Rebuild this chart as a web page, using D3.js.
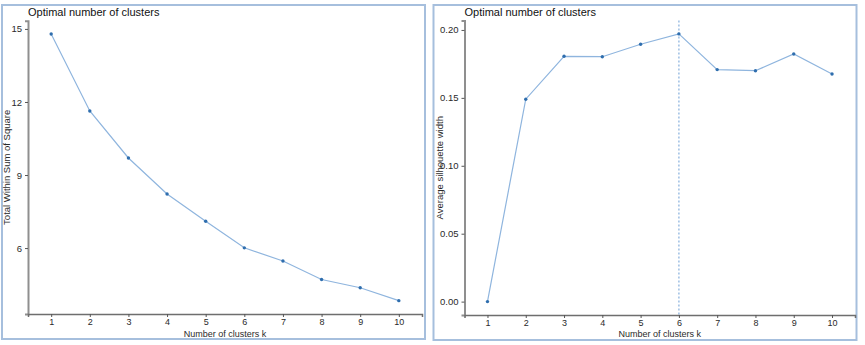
<!DOCTYPE html>
<html>
<head>
<meta charset="utf-8">
<script src="https://cdn.jsdelivr.net/npm/d3@7"></script>
<style>
  body { margin: 0; background: #fff; }
  svg { display: block; font-family: "Liberation Sans", Arial, sans-serif; }
</style>
</head>
<body>
<svg id="chart" width="865" height="345"></svg>
<script>
// Cluster counts evaluated
const clusterK = [1, 2, 3, 4, 5, 6, 7, 8, 9, 10];
// Elbow method: total within-cluster sum of squares
const wssValues = [14.79, 11.63, 9.70, 8.22, 7.10, 6.01, 5.47, 4.71, 4.37, 3.84];
// Silhouette method: average silhouette width
const silValues = [0.000, 0.149, 0.1806, 0.1803, 0.1895, 0.1971, 0.1708, 0.1700, 0.1823, 0.1676];
const wssTicks = [6, 9, 12, 15];
const silTicks = [0.00, 0.05, 0.10, 0.15, 0.20];
const bestK = 6;

const svg = d3.select("#chart");
const lineColor = "#8fb5de";
const pointColor = "#2f6eae";
const frameColor = "#a6bfdd";

function panel(cfg) {
  const g = svg.append("g");
  g.append("rect")
    .attr("x", cfg.frame[0]).attr("y", cfg.frame[1])
    .attr("width", cfg.frame[2]).attr("height", cfg.frame[3])
    .attr("fill", "none").attr("stroke", frameColor).attr("stroke-width", 2);

  const x = d3.scaleLinear().domain([0.4, 10.6]).range([cfg.left, cfg.right]);
  const yExt = d3.extent(cfg.values);
  const pad = (yExt[1] - yExt[0]) * 0.05;
  const y = d3.scaleLinear().domain([yExt[0] - pad, yExt[1] + pad]).range([cfg.bottom, cfg.top]);

  if (cfg.vline != null) {
    g.append("line")
      .attr("x1", x(cfg.vline)).attr("x2", x(cfg.vline))
      .attr("y1", cfg.top).attr("y2", cfg.bottom)
      .attr("stroke", "#9dbfe4").attr("stroke-width", 1.5)
      .attr("stroke-dasharray", "2,2");
  }

  // y axis
  const yAxis = g.append("g")
    .attr("transform", `translate(${cfg.left},0)`)
    .call(d3.axisLeft(y).tickValues(cfg.ticks).tickFormat(cfg.fmt).tickSize(3).tickPadding(3));
  yAxis.select(".domain").attr("stroke", "#8f8f8f").attr("stroke-width", 2);
  yAxis.selectAll(".tick line").attr("stroke", "#555");
  yAxis.selectAll("text").attr("fill", "#2a2a2a").attr("font-size", 9.5)
    .attr("font-family", "Liberation Sans, Arial, sans-serif");

  // x axis
  const xAxis = g.append("g")
    .attr("transform", `translate(0,${cfg.bottom})`)
    .call(d3.axisBottom(x).tickValues(clusterK).tickFormat(d3.format("d")).tickSize(3).tickPadding(1.5));
  xAxis.select(".domain").attr("stroke", "#6e6e6e").attr("stroke-width", 1.5);
  xAxis.selectAll(".tick line").attr("stroke", "#555");
  xAxis.selectAll("text").attr("fill", "#2a2a2a").attr("font-size", 9)
    .attr("font-family", "Liberation Sans, Arial, sans-serif");

  const pts = clusterK.map((k, i) => [k, cfg.values[i]]);
  g.append("path")
    .datum(pts)
    .attr("fill", "none").attr("stroke", lineColor).attr("stroke-width", 1.2)
    .attr("d", d3.line().x(d => x(d[0])).y(d => y(d[1])));
  g.selectAll("circle.pt").data(pts).join("circle")
    .attr("class", "pt")
    .attr("cx", d => x(d[0])).attr("cy", d => y(d[1])).attr("r", 1.7)
    .attr("fill", pointColor);

  g.append("text")
    .attr("x", cfg.left).attr("y", 16)
    .attr("font-size", 11).attr("fill", "#111")
    .text("Optimal number of clusters");
  g.append("text")
    .attr("x", (cfg.left + cfg.right) / 2).attr("y", 336.5)
    .attr("text-anchor", "middle").attr("font-size", 9).attr("fill", "#2a2a2a")
    .text("Number of clusters k");
  g.append("text")
    .attr("transform", `translate(${cfg.ytitleX},${(cfg.top + cfg.bottom) / 2}) rotate(-90)`)
    .attr("text-anchor", "middle").attr("font-size", 9.5).attr("fill", "#2a2a2a")
    .text(cfg.ytitle);
}

panel({
  frame: [2, 5, 423, 334],
  left: 28, right: 422, top: 20.7, bottom: 314,
  values: wssValues, ticks: wssTicks, fmt: d3.format("d"),
  ytitle: "Total Within Sum of Square", ytitleX: 10
});

panel({
  frame: [433.5, 5, 423, 335],
  left: 464.5, right: 855, top: 20.5, bottom: 315,
  values: silValues, ticks: silTicks, fmt: d3.format(".2f"),
  ytitle: "Average silhouette width", ytitleX: 443, vline: bestK
});
</script>
</body>
</html>
